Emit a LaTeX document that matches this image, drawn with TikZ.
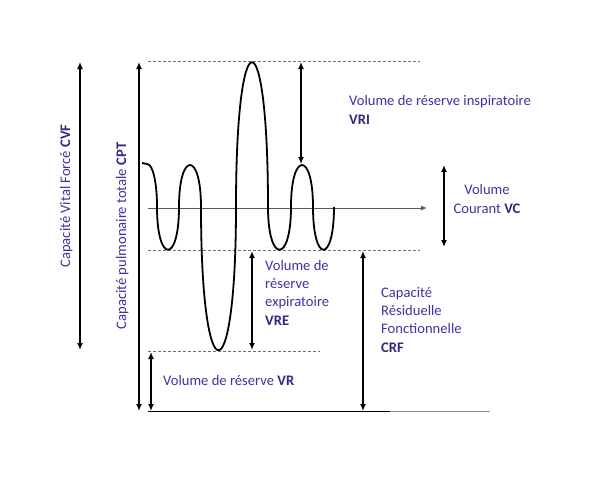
\documentclass[tikz,border=0pt]{standalone}
\usepackage{fontspec}
\setmainfont{Carlito}
\usetikzlibrary{arrows.meta}
\definecolor{txt}{RGB}{62,52,160}
\definecolor{txtb}{RGB}{50,40,125}
\definecolor{dashgray}{RGB}{110,110,110}
\begin{document}
\begin{tikzpicture}[x=1pt,y=-1pt,
  lbl/.style={text=txt,font=\fontsize{14.6}{18}\selectfont,inner sep=0pt},
  dim/.style={line width=1.8pt,{Latex[length=7pt,width=6pt]}-{Latex[length=7pt,width=6pt]}},
  guide/.style={dashgray,line width=0.8pt,dash pattern=on 3pt off 2pt},
  wave/.style={line width=1.8pt,black,line join=round}]
\useasboundingbox (0,0) rectangle (590,501);

% guide lines
\coordinate (t0) at (148,61);  \coordinate (t1) at (420,61);
\coordinate (m0) at (148,250); \coordinate (m1) at (420,250);
\coordinate (l0) at (148,351); \coordinate (l1) at (320,351);
\coordinate (a0) at (148,208); \coordinate (a1) at (427,208);
\coordinate (b0) at (148,411); \coordinate (b1) at (390,411); \coordinate (b2) at (490,411);
\draw[guide] (t0) -- (t1);
\draw[guide] (m0) -- (m1);
\draw[guide] (l0) -- (l1);
\draw[line width=1pt,black!65,-{Latex[length=6pt,width=5pt]}] (a0) -- (a1);
\draw[line width=1pt,black] (b0) -- (b1);
\draw[line width=1pt,black!45] (b1) -- (b2);

% wave (lobes with vertical sides)
\draw[wave] (142,163) -- (147,164)
  .. controls (153,164) and (157,183) .. (157,207)
  .. controls (157,264) and (179,264) .. (179,207)
  .. controls (179,151) and (201,151) .. (201,207)
  .. controls (201,398) and (236,398) .. (236,207)
  .. controls (236,14) and (268,14) .. (268,207)
  .. controls (268,264) and (291,264) .. (291,207)
  .. controls (291,151) and (313,151) .. (313,207)
  .. controls (313,264) and (334,264) .. (334,207);

% dimension arrows
\coordinate (cvf1) at (80,62);  \coordinate (cvf2) at (80,350);
\coordinate (cpt1) at (139,62); \coordinate (cpt2) at (139,411);
\coordinate (vr1) at (151,352); \coordinate (vr2) at (151,411);
\coordinate (vre1) at (252,251); \coordinate (vre2) at (252,350);
\coordinate (vri1) at (301,62); \coordinate (vri2) at (301,164);
\coordinate (vc1) at (444,165); \coordinate (vc2) at (444,247);
\coordinate (crf1) at (363,251); \coordinate (crf2) at (363,411);
\draw[dim] (cvf1) -- (cvf2);
\draw[dim] (cpt1) -- (cpt2);
\draw[dim] (vr1) -- (vr2);
\draw[dim] (vre1) -- (vre2);
\draw[dim] (vri1) -- (vri2);
\draw[dim] (vc1) -- (vc2);
\draw[dim] (crf1) -- (crf2);

% labels
\node[lbl,rotate=90,anchor=base] (cvf) at (70,196) {Capacité Vital Forcé \textcolor{txtb}{\textbf{CVF}}};
\node[lbl,rotate=90,anchor=base] (cpt) at (126,236) {Capacité pulmonaire totale \textcolor{txtb}{\textbf{CPT}}};

\node[lbl,anchor=base west] (vri1t) at (349,105) {Volume de réserve inspiratoire};
\node[lbl,anchor=base west] (vri2t) at (349,124) {\textcolor{txtb}{\textbf{VRI}}};

\node[lbl,anchor=base] (vc1t) at (487,194) {Volume};
\node[lbl,anchor=base] (vc2t) at (487,213) {Courant \textcolor{txtb}{\textbf{VC}}};

\node[lbl,anchor=base west] (vre1t) at (265,270) {Volume de};
\node[lbl,anchor=base west] (vre2t) at (265,288) {réserve};
\node[lbl,anchor=base west] (vre3t) at (265,306) {expiratoire};
\node[lbl,anchor=base west] (vre4t) at (265,325) {\textcolor{txtb}{\textbf{VRE}}};

\node[lbl,anchor=base west] (crf1t) at (381,297) {Capacité};
\node[lbl,anchor=base west] (crf2t) at (381,315) {Résiduelle};
\node[lbl,anchor=base west] (crf3t) at (381,333) {Fonctionnelle};
\node[lbl,anchor=base west] (crf4t) at (381,352) {\textcolor{txtb}{\textbf{CRF}}};

\node[lbl,anchor=base west] (vrt) at (163,385) {Volume de réserve \textcolor{txtb}{\textbf{VR}}};
\end{tikzpicture}
\end{document}
